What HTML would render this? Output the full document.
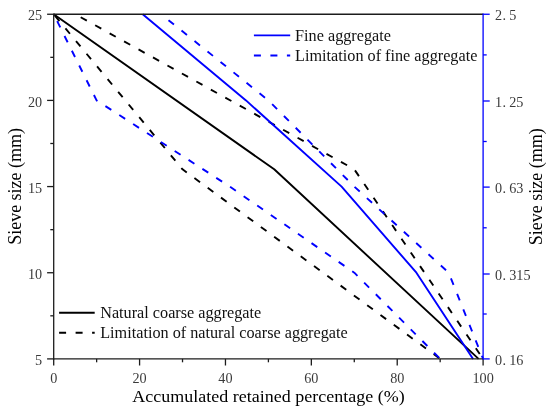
<!DOCTYPE html>
<html><head><meta charset="utf-8"><title>Sieve curves</title>
<style>
html,body{margin:0;padding:0;background:#fff;}
body{width:550px;height:414px;overflow:hidden;}
svg{display:block;}
text{font-family:"Liberation Serif",serif;}
.tk{font-size:14.2px;fill:#3a3a3a;}
.ax{font-size:17.6px;fill:#000;}
.lg{font-size:15.9px;fill:#111;}
</style></head><body>
<svg width="550" height="414" viewBox="0 0 550 414">
<rect x="0" y="0" width="550" height="414" fill="#ffffff"/>
<polyline points="53.7,14.2 274.2,169.3 478.6,358.9" fill="none" stroke="#000" stroke-width="1.9" stroke-linejoin="round"/>
<polyline points="75.2,14.2 354.3,169.3 483.1,358.9" fill="none" stroke="#000" stroke-width="1.9" stroke-linejoin="round" stroke-dasharray="7 9.54" stroke-dashoffset="-6.3"/>
<polyline points="53.7,14.2 182.5,169.3 440.2,358.9" fill="none" stroke="#000" stroke-width="1.9" stroke-linejoin="round" stroke-dasharray="7 9.5" stroke-dashoffset="-1.9"/>
<polyline points="142.7,14.2 246.0,100.4 341.6,186.6 416.4,272.7 473.1,358.9" fill="none" stroke="#0000ff" stroke-width="1.9" stroke-linejoin="round"/>
<polyline points="161.1,14.2 268.4,100.4 354.3,186.6 448.7,272.7 483.1,358.9" fill="none" stroke="#0000ff" stroke-width="1.9" stroke-linejoin="round" stroke-dasharray="7 9.68" stroke-dashoffset="-9.5"/>
<polyline points="53.7,14.2 96.6,100.4 229.8,186.6 354.3,272.7 440.2,358.9" fill="none" stroke="#0000ff" stroke-width="1.9" stroke-linejoin="round" stroke-dasharray="7 9.5" stroke-dashoffset="-7.8"/>
<g stroke="#1c1c1c" stroke-width="1.3" fill="none">
<line x1="53.7" y1="14.25" x2="483.1" y2="14.25"/>
<line x1="53.7" y1="13.6" x2="53.7" y2="359.54999999999995"/>
<line x1="53.050000000000004" y1="358.9" x2="483.1" y2="358.9"/>
<line x1="47.1" y1="14.25" x2="53.7" y2="14.25"/>
<line x1="50.3" y1="57.33" x2="53.7" y2="57.33"/>
<line x1="47.1" y1="100.41" x2="53.7" y2="100.41"/>
<line x1="50.3" y1="143.49" x2="53.7" y2="143.49"/>
<line x1="47.1" y1="186.57" x2="53.7" y2="186.57"/>
<line x1="50.3" y1="229.66" x2="53.7" y2="229.66"/>
<line x1="47.1" y1="272.74" x2="53.7" y2="272.74"/>
<line x1="50.3" y1="315.82" x2="53.7" y2="315.82"/>
<line x1="47.1" y1="358.90" x2="53.7" y2="358.90"/>
<line x1="53.70" y1="358.9" x2="53.70" y2="365.5"/>
<line x1="96.64" y1="358.9" x2="96.64" y2="362.3"/>
<line x1="139.58" y1="358.9" x2="139.58" y2="365.5"/>
<line x1="182.52" y1="358.9" x2="182.52" y2="362.3"/>
<line x1="225.46" y1="358.9" x2="225.46" y2="365.5"/>
<line x1="268.40" y1="358.9" x2="268.40" y2="362.3"/>
<line x1="311.34" y1="358.9" x2="311.34" y2="365.5"/>
<line x1="354.28" y1="358.9" x2="354.28" y2="362.3"/>
<line x1="397.22" y1="358.9" x2="397.22" y2="365.5"/>
<line x1="440.16" y1="358.9" x2="440.16" y2="362.3"/>
<line x1="483.10" y1="358.9" x2="483.10" y2="365.5"/>
</g>
<g stroke="#0000ff" stroke-width="1.3" fill="none">
<line x1="483.1" y1="13.6" x2="483.1" y2="359.54999999999995"/>
<line x1="483.1" y1="14.25" x2="489.7" y2="14.25"/>
<line x1="483.1" y1="54.90" x2="486.7" y2="54.90"/>
<line x1="483.1" y1="101.00" x2="489.7" y2="101.00"/>
<line x1="483.1" y1="141.50" x2="486.7" y2="141.50"/>
<line x1="483.1" y1="187.10" x2="489.7" y2="187.10"/>
<line x1="483.1" y1="227.80" x2="486.7" y2="227.80"/>
<line x1="483.1" y1="274.00" x2="489.7" y2="274.00"/>
<line x1="483.1" y1="314.00" x2="486.7" y2="314.00"/>
<line x1="483.1" y1="358.90" x2="489.7" y2="358.90"/>
</g>
<text class="tk" transform="translate(42.20,19.65)" text-anchor="end">25</text>
<text class="tk" transform="translate(42.20,106.61)" text-anchor="end">20</text>
<text class="tk" transform="translate(42.20,192.67)" text-anchor="end">15</text>
<text class="tk" transform="translate(42.20,278.94)" text-anchor="end">10</text>
<text class="tk" transform="translate(42.20,364.90)" text-anchor="end">5</text>
<text class="tk" transform="translate(53.70,383.40)" text-anchor="middle">0</text>
<text class="tk" transform="translate(139.58,383.40)" text-anchor="middle">20</text>
<text class="tk" transform="translate(225.46,383.40)" text-anchor="middle">40</text>
<text class="tk" transform="translate(311.34,383.40)" text-anchor="middle">60</text>
<text class="tk" transform="translate(397.22,383.40)" text-anchor="middle">80</text>
<text class="tk" transform="translate(483.10,383.40)" text-anchor="middle">100</text>
<text class="tk" transform="translate(495.00,19.65)">2<tspan dx="0.5" letter-spacing="3.1px">.</tspan>5</text>
<text class="tk" transform="translate(495.00,107.41)">1<tspan dx="0.5" letter-spacing="3.1px">.</tspan>25</text>
<text class="tk" transform="translate(495.00,193.07)">0<tspan dx="0.5" letter-spacing="3.1px">.</tspan>63</text>
<text class="tk" transform="translate(495.00,280.24)">0<tspan dx="0.5" letter-spacing="3.1px">.</tspan>315</text>
<text class="tk" transform="translate(495.00,364.90)">0<tspan dx="0.5" letter-spacing="3.1px">.</tspan>16</text>
<text class="ax" transform="translate(268.50,402.30) scale(1.0227,1)" text-anchor="middle">Accumulated retained percentage (%)</text>
<text class="ax" transform="translate(21.00,186.40) rotate(-90) scale(1,1.085)" text-anchor="middle" style="font-size:18px">Sieve size (mm)</text>
<text class="ax" transform="translate(541.90,186.70) rotate(-90) scale(1,1.085)" text-anchor="middle" style="font-size:18px">Sieve size (mm)</text>
<line x1="253.9" y1="35.4" x2="290.2" y2="35.4" stroke="#0000ff" stroke-width="1.9"/>
<line x1="253.9" y1="55.5" x2="290.2" y2="55.5" stroke="#0000ff" stroke-width="1.9" stroke-dasharray="7 9.5"/>
<text class="lg" transform="translate(295.10,40.60) scale(1.02,1)">Fine aggregate</text>
<text class="lg" transform="translate(295.10,60.70) scale(1.02,1)">Limitation of fine aggregate</text>
<line x1="59.1" y1="312.8" x2="94.7" y2="312.8" stroke="#000" stroke-width="1.9"/>
<line x1="59.1" y1="332.8" x2="94.7" y2="332.8" stroke="#000" stroke-width="1.9" stroke-dasharray="7 9.5"/>
<text class="lg" transform="translate(100.20,318.10) scale(1.02,1)">Natural coarse aggregate</text>
<text class="lg" transform="translate(100.20,337.80) scale(1.02,1)">Limitation of natural coarse aggregate</text>
</svg>
</body></html>
